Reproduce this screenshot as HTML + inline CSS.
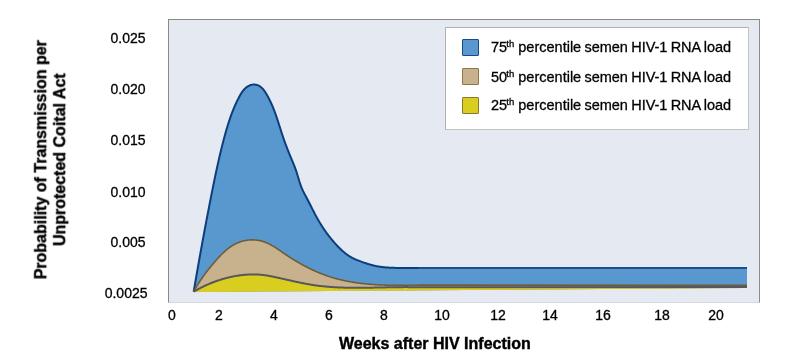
<!DOCTYPE html>
<html><head><meta charset="utf-8"><style>
body *{will-change:transform;}
html,body{margin:0;padding:0;background:#fff;width:800px;height:364px;overflow:hidden;position:relative;font-family:"Liberation Sans",sans-serif;color:#000;}
.xl,.yl,.lt{-webkit-text-stroke:0.3px #000;}
.xt,.yt{-webkit-text-stroke:0.4px #000;}
.plot{position:absolute;left:168px;top:19px;width:590px;height:282px;background:#e5e9f2;border-left:1px solid #888;border-top:1px solid #888;border-right:1px solid #8c8c8c;border-bottom:1px solid #d4d7dc;}
svg{position:absolute;left:0;top:0;}
.xl{position:absolute;top:306.8px;width:40px;text-align:center;font-size:14px;line-height:16px;}
.yl{position:absolute;left:60px;width:85.5px;text-align:right;font-size:14px;line-height:16px;}
.yt{position:absolute;left:0;top:0;width:260px;text-align:center;font-weight:bold;font-size:16px;line-height:18.6px;transform-origin:0 0;}
.xt{position:absolute;left:339px;top:334.5px;font-weight:bold;font-size:16px;line-height:18px;white-space:nowrap;}
.leg{position:absolute;left:445px;top:27px;width:302px;height:100.5px;background:#fff;border:1px solid;border-color:#b0b0b0 #c4c4c4 #c4c4c4 #b0b0b0;}
.sw{position:absolute;left:16px;width:15.4px;height:15.4px;border:1.1px solid;border-radius:1px;}
.lt{position:absolute;left:45px;font-size:14.5px;line-height:16px;white-space:nowrap;word-spacing:-0.8px;}
.lt sup{font-size:9.5px;vertical-align:0;position:relative;top:-4.7px;margin-left:-0.8px;margin-right:0.8px;}
</style></head><body>
<div class="plot"></div>
<svg width="800" height="364" viewBox="0 0 800 364">
<path d="M193.67,291.71 L193.78,291.01 L193.90,290.32 L194.02,289.63 L194.14,288.93 L194.25,288.24 L194.37,287.55 L194.49,286.85 L194.61,286.16 L194.73,285.47 L194.85,284.77 L194.96,284.08 L195.08,283.39 L195.20,282.69 L195.32,282.00 L195.44,281.31 L195.56,280.62 L195.68,279.92 L195.80,279.23 L195.92,278.54 L196.04,277.85 L196.16,277.16 L196.28,276.46 L196.40,275.77 L196.52,275.08 L196.64,274.39 L196.76,273.70 L196.88,273.01 L197.00,272.31 L197.12,271.62 L197.24,270.93 L197.36,270.24 L197.48,269.55 L197.61,268.86 L197.73,268.17 L197.85,267.48 L197.97,266.78 L198.09,266.09 L198.21,265.40 L198.34,264.71 L198.46,264.02 L198.58,263.33 L198.70,262.64 L198.83,261.95 L198.95,261.26 L199.07,260.57 L199.20,259.88 L199.32,259.19 L199.44,258.50 L199.56,257.81 L199.69,257.12 L199.81,256.43 L199.94,255.74 L200.06,255.05 L200.18,254.36 L200.31,253.67 L200.43,252.98 L200.56,252.29 L200.68,251.60 L200.81,250.91 L200.93,250.22 L201.06,249.53 L201.18,248.84 L201.31,248.15 L201.43,247.46 L201.56,246.77 L201.68,246.09 L201.81,245.40 L201.94,244.71 L202.06,244.02 L202.19,243.33 L202.31,242.64 L202.44,241.95 L202.57,241.26 L202.69,240.57 L202.82,239.88 L202.95,239.19 L203.07,238.50 L203.20,237.82 L203.33,237.13 L203.46,236.44 L203.58,235.75 L203.71,235.06 L203.84,234.37 L203.97,233.68 L204.10,232.99 L204.23,232.30 L204.35,231.62 L204.48,230.93 L204.61,230.24 L204.74,229.55 L204.87,228.86 L205.00,228.17 L205.13,227.48 L205.26,226.79 L205.39,226.11 L205.52,225.42 L205.65,224.73 L205.78,224.04 L205.91,223.35 L206.04,222.66 L206.17,221.97 L206.30,221.29 L206.43,220.60 L206.56,219.91 L206.69,219.22 L206.82,218.53 L206.95,217.84 L207.08,217.15 L207.22,216.46 L207.35,215.78 L207.48,215.09 L207.61,214.40 L207.74,213.71 L207.88,213.02 L208.01,212.33 L208.14,211.64 L208.27,210.95 L208.41,210.26 L208.54,209.58 L208.67,208.89 L208.81,208.20 L208.94,207.51 L209.07,206.82 L209.21,206.13 L209.34,205.44 L209.48,204.75 L209.61,204.06 L209.74,203.37 L209.88,202.69 L210.01,202.00 L210.15,201.31 L210.28,200.62 L210.42,199.93 L210.55,199.24 L210.69,198.55 L210.82,197.86 L210.96,197.17 L211.10,196.48 L211.23,195.79 L211.37,195.10 L211.50,194.41 L211.64,193.72 L211.78,193.03 L211.91,192.34 L212.05,191.65 L212.19,190.96 L212.33,190.28 L212.46,189.59 L212.60,188.90 L212.74,188.21 L212.88,187.52 L213.02,186.83 L213.16,186.14 L213.30,185.45 L213.44,184.76 L213.58,184.07 L213.72,183.38 L213.86,182.69 L214.00,182.00 L214.14,181.31 L214.28,180.62 L214.42,179.94 L214.57,179.25 L214.71,178.56 L214.85,177.87 L215.00,177.18 L215.14,176.49 L215.28,175.81 L215.43,175.12 L215.57,174.43 L215.72,173.74 L215.87,173.05 L216.01,172.37 L216.16,171.68 L216.31,170.99 L216.45,170.30 L216.60,169.62 L216.75,168.93 L216.90,168.24 L217.05,167.56 L217.20,166.87 L217.35,166.18 L217.50,165.50 L217.65,164.81 L217.81,164.13 L217.96,163.44 L218.11,162.76 L218.27,162.07 L218.42,161.39 L218.58,160.70 L218.73,160.02 L218.89,159.33 L219.05,158.65 L219.20,157.97 L219.36,157.28 L219.52,156.60 L219.68,155.92 L219.84,155.23 L220.00,154.55 L220.16,153.87 L220.32,153.19 L220.49,152.51 L220.65,151.82 L220.81,151.14 L220.98,150.46 L221.15,149.78 L221.31,149.10 L221.48,148.42 L221.65,147.74 L221.81,147.06 L221.98,146.38 L222.15,145.71 L222.32,145.03 L222.50,144.35 L222.67,143.67 L222.84,142.99 L223.02,142.32 L223.19,141.64 L223.37,140.97 L223.54,140.29 L223.72,139.61 L223.90,138.94 L224.08,138.26 L224.26,137.59 L224.44,136.92 L224.62,136.24 L224.80,135.57 L224.98,134.90 L225.17,134.22 L225.36,133.55 L225.54,132.88 L225.73,132.21 L225.92,131.54 L226.11,130.87 L226.30,130.20 L226.50,129.53 L226.69,128.86 L226.89,128.19 L227.09,127.53 L227.29,126.86 L227.49,126.19 L227.69,125.53 L227.90,124.86 L228.11,124.19 L228.32,123.53 L228.53,122.87 L228.74,122.20 L228.96,121.54 L229.18,120.88 L229.40,120.21 L229.62,119.55 L229.84,118.89 L230.07,118.23 L230.30,117.57 L230.53,116.91 L230.77,116.25 L231.00,115.60 L231.24,114.94 L231.48,114.28 L231.73,113.63 L231.98,112.97 L232.23,112.32 L232.48,111.66 L232.74,111.01 L233.00,110.36 L233.26,109.70 L233.52,109.05 L233.79,108.40 L234.06,107.75 L234.34,107.10 L234.62,106.45 L234.90,105.81 L235.19,105.16 L235.47,104.51 L235.77,103.87 L236.06,103.22 L236.36,102.58 L236.67,101.93 L236.97,101.29 L237.28,100.65 L237.60,100.01 L237.92,99.37 L238.24,98.73 L238.56,98.09 L238.89,97.45 L239.23,96.81 L239.57,96.18 L239.92,95.55 L240.27,94.92 L240.63,94.30 L241.00,93.69 L241.38,93.09 L241.77,92.49 L242.17,91.91 L242.58,91.33 L243.01,90.78 L243.45,90.23 L243.90,89.70 L244.37,89.19 L244.86,88.70 L245.37,88.22 L245.89,87.77 L246.43,87.34 L246.99,86.93 L247.57,86.54 L248.18,86.19 L248.80,85.86 L249.43,85.56 L250.08,85.29 L250.73,85.06 L251.40,84.87 L252.08,84.72 L252.75,84.62 L253.44,84.56 L254.12,84.54 L254.80,84.58 L255.48,84.66 L256.15,84.78 L256.82,84.95 L257.47,85.16 L258.12,85.41 L258.75,85.70 L259.36,86.02 L259.95,86.38 L260.52,86.77 L261.07,87.19 L261.60,87.65 L262.10,88.12 L262.59,88.63 L263.05,89.15 L263.50,89.70 L263.94,90.26 L264.36,90.84 L264.76,91.43 L265.16,92.03 L265.55,92.63 L265.93,93.24 L266.30,93.86 L266.66,94.47 L267.02,95.09 L267.38,95.71 L267.73,96.33 L268.07,96.95 L268.41,97.58 L268.74,98.20 L269.07,98.83 L269.39,99.46 L269.70,100.09 L270.01,100.73 L270.32,101.36 L270.62,102.00 L270.92,102.63 L271.21,103.27 L271.50,103.91 L271.79,104.55 L272.07,105.20 L272.34,105.84 L272.61,106.49 L272.88,107.13 L273.15,107.78 L273.41,108.43 L273.67,109.08 L273.92,109.73 L274.17,110.39 L274.42,111.04 L274.67,111.69 L274.91,112.35 L275.15,113.01 L275.39,113.66 L275.62,114.32 L275.86,114.98 L276.09,115.64 L276.32,116.30 L276.54,116.96 L276.77,117.62 L276.99,118.29 L277.21,118.95 L277.43,119.61 L277.65,120.28 L277.87,120.94 L278.09,121.61 L278.30,122.27 L278.51,122.94 L278.73,123.60 L278.94,124.27 L279.15,124.94 L279.37,125.60 L279.58,126.27 L279.79,126.94 L280.00,127.61 L280.21,128.27 L280.43,128.94 L280.64,129.61 L280.85,130.28 L281.06,130.94 L281.28,131.61 L281.49,132.28 L281.71,132.95 L281.92,133.61 L282.14,134.28 L282.36,134.95 L282.58,135.61 L282.80,136.28 L283.03,136.94 L283.25,137.61 L283.48,138.27 L283.71,138.94 L283.94,139.60 L284.17,140.27 L284.41,140.93 L284.64,141.59 L284.88,142.25 L285.12,142.91 L285.36,143.57 L285.61,144.23 L285.85,144.89 L286.10,145.55 L286.35,146.21 L286.60,146.87 L286.85,147.53 L287.10,148.18 L287.35,148.84 L287.61,149.50 L287.87,150.15 L288.12,150.80 L288.38,151.46 L288.64,152.11 L288.91,152.76 L289.17,153.42 L289.43,154.07 L289.70,154.72 L289.96,155.37 L290.23,156.02 L290.50,156.67 L290.77,157.31 L291.04,157.96 L291.31,158.61 L291.58,159.25 L291.85,159.90 L292.13,160.54 L292.40,161.19 L292.67,161.83 L292.94,162.48 L293.20,163.12 L293.47,163.77 L293.73,164.42 L294.00,165.07 L294.25,165.72 L294.51,166.37 L294.76,167.02 L295.01,167.67 L295.26,168.33 L295.50,168.98 L295.73,169.64 L295.96,170.30 L296.19,170.97 L296.41,171.63 L296.62,172.30 L296.84,172.97 L297.04,173.64 L297.25,174.31 L297.46,174.98 L297.66,175.66 L297.86,176.33 L298.06,177.01 L298.26,177.68 L298.47,178.35 L298.67,179.03 L298.87,179.70 L299.08,180.37 L299.28,181.04 L299.49,181.72 L299.71,182.38 L299.92,183.05 L300.14,183.72 L300.37,184.38 L300.60,185.04 L300.84,185.70 L301.08,186.36 L301.33,187.01 L301.58,187.66 L301.85,188.31 L302.12,188.95 L302.40,189.59 L302.69,190.23 L302.99,190.86 L303.29,191.49 L303.60,192.12 L303.92,192.74 L304.25,193.37 L304.57,193.99 L304.90,194.61 L305.23,195.22 L305.57,195.84 L305.90,196.46 L306.23,197.08 L306.57,197.70 L306.90,198.32 L307.22,198.94 L307.55,199.56 L307.88,200.19 L308.20,200.81 L308.52,201.43 L308.84,202.06 L309.16,202.69 L309.48,203.31 L309.80,203.94 L310.12,204.57 L310.43,205.19 L310.75,205.82 L311.07,206.45 L311.38,207.07 L311.70,207.70 L312.02,208.33 L312.33,208.95 L312.65,209.58 L312.97,210.21 L313.29,210.83 L313.61,211.46 L313.93,212.08 L314.26,212.70 L314.58,213.33 L314.91,213.95 L315.24,214.57 L315.56,215.19 L315.90,215.81 L316.23,216.42 L316.57,217.04 L316.90,217.65 L317.25,218.27 L317.59,218.88 L317.94,219.49 L318.28,220.10 L318.64,220.70 L318.99,221.31 L319.35,221.91 L319.71,222.51 L320.07,223.11 L320.44,223.71 L320.80,224.31 L321.17,224.90 L321.55,225.49 L321.92,226.09 L322.30,226.68 L322.69,227.26 L323.07,227.85 L323.46,228.43 L323.85,229.01 L324.24,229.59 L324.64,230.17 L325.04,230.75 L325.44,231.32 L325.84,231.89 L326.25,232.46 L326.66,233.03 L327.08,233.60 L327.50,234.16 L327.92,234.72 L328.34,235.28 L328.76,235.84 L329.19,236.39 L329.63,236.94 L330.06,237.49 L330.50,238.04 L330.94,238.59 L331.39,239.13 L331.83,239.67 L332.28,240.21 L332.74,240.75 L333.20,241.28 L333.66,241.81 L334.12,242.34 L334.59,242.87 L335.06,243.39 L335.53,243.91 L336.01,244.43 L336.49,244.94 L336.97,245.46 L337.46,245.97 L337.94,246.48 L338.44,246.98 L338.93,247.48 L339.43,247.98 L339.94,248.48 L340.44,248.97 L340.95,249.46 L341.47,249.94 L341.99,250.42 L342.51,250.90 L343.04,251.36 L343.57,251.83 L344.11,252.28 L344.65,252.73 L345.20,253.17 L345.75,253.61 L346.30,254.03 L346.87,254.45 L347.43,254.86 L348.01,255.26 L348.58,255.66 L349.17,256.04 L349.76,256.41 L350.36,256.77 L350.96,257.12 L351.57,257.46 L352.18,257.80 L352.80,258.12 L353.43,258.43 L354.06,258.74 L354.69,259.04 L355.33,259.33 L355.97,259.61 L356.61,259.89 L357.26,260.16 L357.91,260.42 L358.57,260.68 L359.22,260.93 L359.88,261.18 L360.54,261.43 L361.21,261.67 L361.87,261.91 L362.53,262.15 L363.20,262.38 L363.87,262.61 L364.53,262.84 L365.20,263.07 L365.87,263.29 L366.54,263.50 L367.21,263.72 L367.88,263.93 L368.56,264.13 L369.23,264.33 L369.90,264.53 L370.58,264.72 L371.26,264.91 L371.93,265.09 L372.61,265.26 L373.29,265.43 L373.97,265.59 L374.66,265.75 L375.34,265.89 L376.02,266.04 L376.71,266.17 L377.40,266.30 L378.08,266.42 L378.77,266.54 L379.46,266.65 L380.15,266.75 L380.85,266.85 L381.54,266.94 L382.23,267.03 L382.93,267.11 L383.62,267.19 L384.32,267.26 L385.01,267.33 L385.71,267.39 L386.41,267.45 L387.11,267.51 L387.81,267.56 L388.51,267.60 L389.21,267.64 L389.91,267.68 L390.61,267.72 L391.31,267.75 L392.01,267.78 L392.72,267.80 L393.42,267.83 L394.12,267.85 L394.83,267.86 L395.53,267.88 L396.24,267.89 L396.94,267.90 L397.64,267.91 L398.35,267.92 L399.05,267.92 L399.76,267.93 L400.46,267.93 L401.17,267.93 L401.87,267.93 L402.58,267.93 L403.28,267.93 L403.99,267.93 L404.69,267.93 L405.39,267.92 L406.10,267.92 L406.80,267.92 L407.50,267.92 L408.21,267.92 L408.91,267.92 L409.61,267.92 L410.31,267.92 L411.01,267.92 L411.71,267.92 L412.41,267.93 L413.11,267.93 L413.81,267.94 L414.51,267.95 L415.21,267.96 L415.90,267.98 L416.60,267.99 L417.30,268.01 L417.99,268.03 L747.00,268.00 L747,287.9 L193.7,292.1 Z" fill="#5898ce" stroke="none"/>
<path d="M193.71,291.68 L194.04,291.05 L194.39,290.43 L194.73,289.80 L195.08,289.18 L195.43,288.57 L195.78,287.96 L196.13,287.35 L196.49,286.74 L196.85,286.14 L197.21,285.53 L197.58,284.94 L197.94,284.34 L198.31,283.75 L198.68,283.15 L199.06,282.57 L199.44,281.98 L199.81,281.40 L200.20,280.82 L200.58,280.24 L200.97,279.66 L201.36,279.08 L201.75,278.51 L202.14,277.94 L202.54,277.37 L202.94,276.81 L203.34,276.24 L203.74,275.68 L204.15,275.11 L204.56,274.55 L204.97,274.00 L205.39,273.44 L205.80,272.88 L206.22,272.33 L206.64,271.77 L207.07,271.22 L207.49,270.67 L207.92,270.12 L208.35,269.57 L208.79,269.03 L209.22,268.48 L209.66,267.93 L210.10,267.39 L210.54,266.84 L210.99,266.30 L211.44,265.76 L211.89,265.21 L212.34,264.67 L212.80,264.13 L213.26,263.59 L213.72,263.05 L214.18,262.51 L214.64,261.96 L215.11,261.42 L215.58,260.88 L216.06,260.34 L216.53,259.80 L217.01,259.27 L217.49,258.73 L217.97,258.20 L218.46,257.67 L218.95,257.14 L219.45,256.61 L219.94,256.09 L220.44,255.57 L220.94,255.05 L221.45,254.54 L221.96,254.03 L222.48,253.52 L222.99,253.02 L223.51,252.53 L224.04,252.04 L224.57,251.56 L225.10,251.08 L225.64,250.61 L226.18,250.15 L226.73,249.69 L227.28,249.24 L227.83,248.80 L228.39,248.36 L228.95,247.94 L229.52,247.52 L230.10,247.11 L230.67,246.71 L231.26,246.32 L231.84,245.93 L232.44,245.56 L233.03,245.20 L233.64,244.85 L234.25,244.51 L234.86,244.18 L235.48,243.86 L236.10,243.56 L236.73,243.26 L237.37,242.98 L238.01,242.71 L238.66,242.45 L239.31,242.21 L239.97,241.97 L240.63,241.75 L241.29,241.54 L241.96,241.34 L242.63,241.16 L243.30,240.99 L243.98,240.83 L244.66,240.68 L245.34,240.55 L246.03,240.43 L246.72,240.32 L247.40,240.22 L248.09,240.13 L248.79,240.06 L249.48,240.00 L250.17,239.96 L250.86,239.92 L251.56,239.90 L252.25,239.89 L252.94,239.90 L253.64,239.91 L254.33,239.94 L255.02,239.99 L255.71,240.04 L256.40,240.11 L257.08,240.19 L257.77,240.29 L258.45,240.39 L259.13,240.51 L259.80,240.65 L260.47,240.79 L261.14,240.95 L261.81,241.13 L262.47,241.31 L263.13,241.51 L263.78,241.72 L264.43,241.95 L265.07,242.18 L265.71,242.43 L266.35,242.69 L266.98,242.96 L267.61,243.24 L268.24,243.54 L268.86,243.84 L269.48,244.15 L270.10,244.47 L270.71,244.80 L271.33,245.13 L271.93,245.47 L272.54,245.83 L273.15,246.18 L273.75,246.55 L274.35,246.92 L274.95,247.29 L275.55,247.67 L276.14,248.06 L276.74,248.44 L277.33,248.84 L277.92,249.23 L278.52,249.63 L279.11,250.03 L279.70,250.44 L280.29,250.84 L280.88,251.25 L281.47,251.65 L282.06,252.06 L282.65,252.47 L283.24,252.87 L283.83,253.28 L284.42,253.68 L285.01,254.09 L285.60,254.49 L286.20,254.88 L286.79,255.28 L287.39,255.67 L287.98,256.07 L288.58,256.46 L289.18,256.85 L289.78,257.23 L290.37,257.62 L290.97,258.00 L291.58,258.38 L292.18,258.76 L292.78,259.13 L293.38,259.51 L293.99,259.88 L294.59,260.25 L295.20,260.62 L295.81,260.98 L296.42,261.34 L297.02,261.70 L297.63,262.06 L298.24,262.42 L298.86,262.77 L299.47,263.12 L300.08,263.47 L300.70,263.82 L301.31,264.16 L301.93,264.50 L302.55,264.84 L303.16,265.18 L303.78,265.51 L304.40,265.84 L305.02,266.17 L305.65,266.50 L306.27,266.82 L306.89,267.14 L307.52,267.46 L308.14,267.78 L308.77,268.09 L309.40,268.40 L310.03,268.71 L310.66,269.02 L311.29,269.32 L311.92,269.62 L312.55,269.92 L313.19,270.21 L313.82,270.50 L314.46,270.79 L315.10,271.08 L315.74,271.36 L316.38,271.64 L317.02,271.92 L317.66,272.19 L318.30,272.46 L318.94,272.73 L319.59,273.00 L320.23,273.26 L320.88,273.52 L321.53,273.78 L322.18,274.03 L322.83,274.28 L323.48,274.53 L324.13,274.77 L324.79,275.01 L325.44,275.25 L326.10,275.48 L326.76,275.72 L327.41,275.94 L328.07,276.17 L328.73,276.39 L329.40,276.61 L330.06,276.82 L330.72,277.04 L331.39,277.24 L332.05,277.45 L332.72,277.65 L333.39,277.85 L334.06,278.04 L334.73,278.24 L335.41,278.43 L336.08,278.61 L336.75,278.79 L337.43,278.97 L338.11,279.15 L338.78,279.32 L339.46,279.49 L340.14,279.66 L340.82,279.82 L341.51,279.98 L342.19,280.14 L342.87,280.29 L343.56,280.44 L344.24,280.59 L344.93,280.74 L345.62,280.88 L346.30,281.02 L346.99,281.16 L347.68,281.29 L348.37,281.42 L349.07,281.55 L349.76,281.68 L350.45,281.80 L351.14,281.92 L351.84,282.04 L352.53,282.16 L353.23,282.27 L353.93,282.38 L354.62,282.49 L355.32,282.59 L356.02,282.70 L356.72,282.80 L357.42,282.89 L358.12,282.99 L358.82,283.08 L359.52,283.17 L360.22,283.26 L360.93,283.35 L361.63,283.43 L362.33,283.51 L363.04,283.59 L363.74,283.67 L364.44,283.75 L365.15,283.82 L365.85,283.89 L366.56,283.96 L367.27,284.03 L367.97,284.09 L368.68,284.16 L369.39,284.22 L370.09,284.28 L370.80,284.33 L371.51,284.39 L372.22,284.44 L372.92,284.49 L373.63,284.54 L374.34,284.59 L375.05,284.64 L375.76,284.68 L376.47,284.72 L377.18,284.76 L377.88,284.80 L378.59,284.84 L379.30,284.88 L380.01,284.91 L380.72,284.95 L381.43,284.98 L382.14,285.01 L382.85,285.04 L383.56,285.06 L384.27,285.09 L384.98,285.11 L385.68,285.14 L386.39,285.16 L387.10,285.18 L387.81,285.20 L388.52,285.21 L389.23,285.23 L389.93,285.25 L390.64,285.26 L391.35,285.27 L392.06,285.29 L392.76,285.30 L393.47,285.31 L394.18,285.32 L394.88,285.32 L395.59,285.33 L396.29,285.34 L397.00,285.34 L397.70,285.34 L398.40,285.35 L399.11,285.35 L399.81,285.35 L400.51,285.35 L401.22,285.35 L401.92,285.35 L402.62,285.35 L403.32,285.35 L404.02,285.34 L404.72,285.34 L405.42,285.33 L406.12,285.33 L406.81,285.32 L407.51,285.32 L408.21,285.31 L408.90,285.30 L409.60,285.30 L410.29,285.29 L410.98,285.28 L411.68,285.27 L412.37,285.26 L413.06,285.25 L413.75,285.24 L414.44,285.23 L415.13,285.22 L415.82,285.21 L416.50,285.20 L417.19,285.19 L417.88,285.18 L418.56,285.17 L419.24,285.16 L419.93,285.15 L747.00,285.20 L747,287.9 L193.7,292.1 Z" fill="#c8b18d" stroke="none"/>
<path d="M193.70,291.66 L194.30,291.31 L194.91,290.97 L195.52,290.62 L196.13,290.28 L196.74,289.95 L197.36,289.61 L197.97,289.28 L198.59,288.95 L199.21,288.62 L199.83,288.30 L200.46,287.98 L201.08,287.66 L201.71,287.35 L202.34,287.04 L202.97,286.73 L203.60,286.43 L204.24,286.13 L204.87,285.83 L205.51,285.53 L206.15,285.24 L206.79,284.95 L207.43,284.67 L208.08,284.38 L208.72,284.10 L209.37,283.83 L210.02,283.56 L210.67,283.29 L211.32,283.02 L211.98,282.76 L212.63,282.50 L213.29,282.25 L213.95,282.00 L214.61,281.75 L215.27,281.51 L215.93,281.26 L216.59,281.03 L217.26,280.79 L217.93,280.57 L218.59,280.34 L219.26,280.12 L219.93,279.90 L220.60,279.69 L221.28,279.47 L221.95,279.27 L222.63,279.07 L223.30,278.87 L223.98,278.67 L224.66,278.48 L225.34,278.29 L226.02,278.11 L226.70,277.93 L227.38,277.76 L228.06,277.59 L228.75,277.42 L229.43,277.26 L230.12,277.10 L230.81,276.95 L231.49,276.80 L232.18,276.65 L232.87,276.51 L233.56,276.37 L234.26,276.24 L234.95,276.11 L235.64,275.99 L236.34,275.87 L237.03,275.75 L237.73,275.64 L238.42,275.54 L239.12,275.44 L239.82,275.34 L240.51,275.25 L241.21,275.16 L241.91,275.08 L242.61,275.00 L243.31,274.93 L244.01,274.86 L244.71,274.79 L245.41,274.74 L246.12,274.68 L246.82,274.63 L247.52,274.59 L248.22,274.55 L248.93,274.51 L249.63,274.48 L250.33,274.46 L251.04,274.44 L251.74,274.43 L252.44,274.42 L253.15,274.42 L253.85,274.42 L254.55,274.43 L255.25,274.44 L255.95,274.46 L256.66,274.49 L257.36,274.52 L258.06,274.55 L258.76,274.60 L259.46,274.64 L260.16,274.70 L260.85,274.76 L261.55,274.82 L262.25,274.90 L262.94,274.97 L263.64,275.06 L264.33,275.15 L265.03,275.24 L265.72,275.34 L266.41,275.45 L267.10,275.56 L267.79,275.67 L268.48,275.79 L269.17,275.92 L269.86,276.04 L270.55,276.17 L271.24,276.31 L271.93,276.44 L272.61,276.58 L273.30,276.72 L273.99,276.87 L274.67,277.01 L275.36,277.16 L276.05,277.31 L276.73,277.46 L277.42,277.61 L278.11,277.76 L278.79,277.91 L279.48,278.06 L280.16,278.21 L280.85,278.37 L281.54,278.52 L282.22,278.68 L282.91,278.83 L283.60,278.99 L284.28,279.14 L284.97,279.30 L285.65,279.45 L286.34,279.61 L287.03,279.77 L287.71,279.92 L288.40,280.08 L289.09,280.23 L289.77,280.39 L290.46,280.54 L291.15,280.70 L291.83,280.85 L292.52,281.01 L293.21,281.16 L293.89,281.31 L294.58,281.46 L295.27,281.61 L295.96,281.76 L296.64,281.91 L297.33,282.06 L298.02,282.21 L298.71,282.35 L299.40,282.50 L300.09,282.64 L300.78,282.78 L301.46,282.92 L302.15,283.06 L302.84,283.20 L303.53,283.34 L304.22,283.47 L304.91,283.60 L305.60,283.73 L306.29,283.86 L306.98,283.99 L307.68,284.11 L308.37,284.24 L309.06,284.36 L309.75,284.48 L310.44,284.59 L311.14,284.71 L311.83,284.82 L312.52,284.93 L313.22,285.04 L313.91,285.14 L314.60,285.24 L315.30,285.34 L315.99,285.44 L316.69,285.53 L317.38,285.63 L318.08,285.72 L318.78,285.80 L319.47,285.89 L320.17,285.97 L320.87,286.05 L321.56,286.13 L322.26,286.21 L322.96,286.28 L323.66,286.35 L324.35,286.42 L325.05,286.49 L325.75,286.56 L326.45,286.62 L327.15,286.68 L327.85,286.74 L328.55,286.80 L329.25,286.86 L329.95,286.91 L330.65,286.96 L331.35,287.01 L332.05,287.06 L332.75,287.11 L333.45,287.15 L334.15,287.20 L334.86,287.24 L335.56,287.28 L336.26,287.32 L336.96,287.35 L337.66,287.39 L338.37,287.42 L339.07,287.45 L339.77,287.48 L340.47,287.51 L341.18,287.54 L341.88,287.57 L342.58,287.59 L343.29,287.61 L343.99,287.64 L344.70,287.66 L345.40,287.67 L346.10,287.69 L346.81,287.71 L347.51,287.72 L348.22,287.74 L348.92,287.75 L349.63,287.76 L350.33,287.77 L351.04,287.78 L351.74,287.79 L352.45,287.80 L353.15,287.80 L353.86,287.81 L354.56,287.81 L355.27,287.81 L355.97,287.82 L356.68,287.82 L357.39,287.82 L358.09,287.82 L358.80,287.81 L359.50,287.81 L360.21,287.81 L360.92,287.80 L361.62,287.80 L362.33,287.79 L363.03,287.79 L363.74,287.78 L364.45,287.77 L365.15,287.77 L365.86,287.76 L366.57,287.75 L367.27,287.74 L367.98,287.73 L368.68,287.72 L369.39,287.71 L370.10,287.69 L370.80,287.68 L371.51,287.67 L372.22,287.66 L372.92,287.64 L373.63,287.63 L374.34,287.62 L375.04,287.60 L375.75,287.59 L376.45,287.57 L377.16,287.56 L377.87,287.54 L378.57,287.53 L379.28,287.51 L379.98,287.50 L380.69,287.48 L381.39,287.47 L382.10,287.45 L382.81,287.44 L383.51,287.42 L384.22,287.41 L384.92,287.39 L385.63,287.38 L386.33,287.36 L387.04,287.35 L387.74,287.34 L388.45,287.32 L389.15,287.31 L389.86,287.29 L390.56,287.28 L391.27,287.27 L391.97,287.26 L392.67,287.24 L393.38,287.23 L394.08,287.22 L394.78,287.21 L395.49,287.20 L396.19,287.19 L396.89,287.18 L397.60,287.17 L398.30,287.16 L399.00,287.16 L399.71,287.15 L400.41,287.14 L401.11,287.14 L401.81,287.13 L402.51,287.13 L403.22,287.13 L403.92,287.12 L404.62,287.12 L405.32,287.12 L406.02,287.12 L406.72,287.12 L407.42,287.12 L408.12,287.13 L408.82,287.13 L409.52,287.13 L410.22,287.14 L410.92,287.15 L411.62,287.16 L412.32,287.16 L413.02,287.17 L413.71,287.19 L414.41,287.20 L415.11,287.21 L415.81,287.23 L416.50,287.24 L417.20,287.26 L417.90,287.28 L418.59,287.30 L419.29,287.32 L419.99,287.34 L747.00,286.90 L747,287.9 L193.7,292.1 Z" fill="#d9cd1f" stroke="none"/>
<path d="M193.67,291.71 L193.78,291.01 L193.90,290.32 L194.02,289.63 L194.14,288.93 L194.25,288.24 L194.37,287.55 L194.49,286.85 L194.61,286.16 L194.73,285.47 L194.85,284.77 L194.96,284.08 L195.08,283.39 L195.20,282.69 L195.32,282.00 L195.44,281.31 L195.56,280.62 L195.68,279.92 L195.80,279.23 L195.92,278.54 L196.04,277.85 L196.16,277.16 L196.28,276.46 L196.40,275.77 L196.52,275.08 L196.64,274.39 L196.76,273.70 L196.88,273.01 L197.00,272.31 L197.12,271.62 L197.24,270.93 L197.36,270.24 L197.48,269.55 L197.61,268.86 L197.73,268.17 L197.85,267.48 L197.97,266.78 L198.09,266.09 L198.21,265.40 L198.34,264.71 L198.46,264.02 L198.58,263.33 L198.70,262.64 L198.83,261.95 L198.95,261.26 L199.07,260.57 L199.20,259.88 L199.32,259.19 L199.44,258.50 L199.56,257.81 L199.69,257.12 L199.81,256.43 L199.94,255.74 L200.06,255.05 L200.18,254.36 L200.31,253.67 L200.43,252.98 L200.56,252.29 L200.68,251.60 L200.81,250.91 L200.93,250.22 L201.06,249.53 L201.18,248.84 L201.31,248.15 L201.43,247.46 L201.56,246.77 L201.68,246.09 L201.81,245.40 L201.94,244.71 L202.06,244.02 L202.19,243.33 L202.31,242.64 L202.44,241.95 L202.57,241.26 L202.69,240.57 L202.82,239.88 L202.95,239.19 L203.07,238.50 L203.20,237.82 L203.33,237.13 L203.46,236.44 L203.58,235.75 L203.71,235.06 L203.84,234.37 L203.97,233.68 L204.10,232.99 L204.23,232.30 L204.35,231.62 L204.48,230.93 L204.61,230.24 L204.74,229.55 L204.87,228.86 L205.00,228.17 L205.13,227.48 L205.26,226.79 L205.39,226.11 L205.52,225.42 L205.65,224.73 L205.78,224.04 L205.91,223.35 L206.04,222.66 L206.17,221.97 L206.30,221.29 L206.43,220.60 L206.56,219.91 L206.69,219.22 L206.82,218.53 L206.95,217.84 L207.08,217.15 L207.22,216.46 L207.35,215.78 L207.48,215.09 L207.61,214.40 L207.74,213.71 L207.88,213.02 L208.01,212.33 L208.14,211.64 L208.27,210.95 L208.41,210.26 L208.54,209.58 L208.67,208.89 L208.81,208.20 L208.94,207.51 L209.07,206.82 L209.21,206.13 L209.34,205.44 L209.48,204.75 L209.61,204.06 L209.74,203.37 L209.88,202.69 L210.01,202.00 L210.15,201.31 L210.28,200.62 L210.42,199.93 L210.55,199.24 L210.69,198.55 L210.82,197.86 L210.96,197.17 L211.10,196.48 L211.23,195.79 L211.37,195.10 L211.50,194.41 L211.64,193.72 L211.78,193.03 L211.91,192.34 L212.05,191.65 L212.19,190.96 L212.33,190.28 L212.46,189.59 L212.60,188.90 L212.74,188.21 L212.88,187.52 L213.02,186.83 L213.16,186.14 L213.30,185.45 L213.44,184.76 L213.58,184.07 L213.72,183.38 L213.86,182.69 L214.00,182.00 L214.14,181.31 L214.28,180.62 L214.42,179.94 L214.57,179.25 L214.71,178.56 L214.85,177.87 L215.00,177.18 L215.14,176.49 L215.28,175.81 L215.43,175.12 L215.57,174.43 L215.72,173.74 L215.87,173.05 L216.01,172.37 L216.16,171.68 L216.31,170.99 L216.45,170.30 L216.60,169.62 L216.75,168.93 L216.90,168.24 L217.05,167.56 L217.20,166.87 L217.35,166.18 L217.50,165.50 L217.65,164.81 L217.81,164.13 L217.96,163.44 L218.11,162.76 L218.27,162.07 L218.42,161.39 L218.58,160.70 L218.73,160.02 L218.89,159.33 L219.05,158.65 L219.20,157.97 L219.36,157.28 L219.52,156.60 L219.68,155.92 L219.84,155.23 L220.00,154.55 L220.16,153.87 L220.32,153.19 L220.49,152.51 L220.65,151.82 L220.81,151.14 L220.98,150.46 L221.15,149.78 L221.31,149.10 L221.48,148.42 L221.65,147.74 L221.81,147.06 L221.98,146.38 L222.15,145.71 L222.32,145.03 L222.50,144.35 L222.67,143.67 L222.84,142.99 L223.02,142.32 L223.19,141.64 L223.37,140.97 L223.54,140.29 L223.72,139.61 L223.90,138.94 L224.08,138.26 L224.26,137.59 L224.44,136.92 L224.62,136.24 L224.80,135.57 L224.98,134.90 L225.17,134.22 L225.36,133.55 L225.54,132.88 L225.73,132.21 L225.92,131.54 L226.11,130.87 L226.30,130.20 L226.50,129.53 L226.69,128.86 L226.89,128.19 L227.09,127.53 L227.29,126.86 L227.49,126.19 L227.69,125.53 L227.90,124.86 L228.11,124.19 L228.32,123.53 L228.53,122.87 L228.74,122.20 L228.96,121.54 L229.18,120.88 L229.40,120.21 L229.62,119.55 L229.84,118.89 L230.07,118.23 L230.30,117.57 L230.53,116.91 L230.77,116.25 L231.00,115.60 L231.24,114.94 L231.48,114.28 L231.73,113.63 L231.98,112.97 L232.23,112.32 L232.48,111.66 L232.74,111.01 L233.00,110.36 L233.26,109.70 L233.52,109.05 L233.79,108.40 L234.06,107.75 L234.34,107.10 L234.62,106.45 L234.90,105.81 L235.19,105.16 L235.47,104.51 L235.77,103.87 L236.06,103.22 L236.36,102.58 L236.67,101.93 L236.97,101.29 L237.28,100.65 L237.60,100.01 L237.92,99.37 L238.24,98.73 L238.56,98.09 L238.89,97.45 L239.23,96.81 L239.57,96.18 L239.92,95.55 L240.27,94.92 L240.63,94.30 L241.00,93.69 L241.38,93.09 L241.77,92.49 L242.17,91.91 L242.58,91.33 L243.01,90.78 L243.45,90.23 L243.90,89.70 L244.37,89.19 L244.86,88.70 L245.37,88.22 L245.89,87.77 L246.43,87.34 L246.99,86.93 L247.57,86.54 L248.18,86.19 L248.80,85.86 L249.43,85.56 L250.08,85.29 L250.73,85.06 L251.40,84.87 L252.08,84.72 L252.75,84.62 L253.44,84.56 L254.12,84.54 L254.80,84.58 L255.48,84.66 L256.15,84.78 L256.82,84.95 L257.47,85.16 L258.12,85.41 L258.75,85.70 L259.36,86.02 L259.95,86.38 L260.52,86.77 L261.07,87.19 L261.60,87.65 L262.10,88.12 L262.59,88.63 L263.05,89.15 L263.50,89.70 L263.94,90.26 L264.36,90.84 L264.76,91.43 L265.16,92.03 L265.55,92.63 L265.93,93.24 L266.30,93.86 L266.66,94.47 L267.02,95.09 L267.38,95.71 L267.73,96.33 L268.07,96.95 L268.41,97.58 L268.74,98.20 L269.07,98.83 L269.39,99.46 L269.70,100.09 L270.01,100.73 L270.32,101.36 L270.62,102.00 L270.92,102.63 L271.21,103.27 L271.50,103.91 L271.79,104.55 L272.07,105.20 L272.34,105.84 L272.61,106.49 L272.88,107.13 L273.15,107.78 L273.41,108.43 L273.67,109.08 L273.92,109.73 L274.17,110.39 L274.42,111.04 L274.67,111.69 L274.91,112.35 L275.15,113.01 L275.39,113.66 L275.62,114.32 L275.86,114.98 L276.09,115.64 L276.32,116.30 L276.54,116.96 L276.77,117.62 L276.99,118.29 L277.21,118.95 L277.43,119.61 L277.65,120.28 L277.87,120.94 L278.09,121.61 L278.30,122.27 L278.51,122.94 L278.73,123.60 L278.94,124.27 L279.15,124.94 L279.37,125.60 L279.58,126.27 L279.79,126.94 L280.00,127.61 L280.21,128.27 L280.43,128.94 L280.64,129.61 L280.85,130.28 L281.06,130.94 L281.28,131.61 L281.49,132.28 L281.71,132.95 L281.92,133.61 L282.14,134.28 L282.36,134.95 L282.58,135.61 L282.80,136.28 L283.03,136.94 L283.25,137.61 L283.48,138.27 L283.71,138.94 L283.94,139.60 L284.17,140.27 L284.41,140.93 L284.64,141.59 L284.88,142.25 L285.12,142.91 L285.36,143.57 L285.61,144.23 L285.85,144.89 L286.10,145.55 L286.35,146.21 L286.60,146.87 L286.85,147.53 L287.10,148.18 L287.35,148.84 L287.61,149.50 L287.87,150.15 L288.12,150.80 L288.38,151.46 L288.64,152.11 L288.91,152.76 L289.17,153.42 L289.43,154.07 L289.70,154.72 L289.96,155.37 L290.23,156.02 L290.50,156.67 L290.77,157.31 L291.04,157.96 L291.31,158.61 L291.58,159.25 L291.85,159.90 L292.13,160.54 L292.40,161.19 L292.67,161.83 L292.94,162.48 L293.20,163.12 L293.47,163.77 L293.73,164.42 L294.00,165.07 L294.25,165.72 L294.51,166.37 L294.76,167.02 L295.01,167.67 L295.26,168.33 L295.50,168.98 L295.73,169.64 L295.96,170.30 L296.19,170.97 L296.41,171.63 L296.62,172.30 L296.84,172.97 L297.04,173.64 L297.25,174.31 L297.46,174.98 L297.66,175.66 L297.86,176.33 L298.06,177.01 L298.26,177.68 L298.47,178.35 L298.67,179.03 L298.87,179.70 L299.08,180.37 L299.28,181.04 L299.49,181.72 L299.71,182.38 L299.92,183.05 L300.14,183.72 L300.37,184.38 L300.60,185.04 L300.84,185.70 L301.08,186.36 L301.33,187.01 L301.58,187.66 L301.85,188.31 L302.12,188.95 L302.40,189.59 L302.69,190.23 L302.99,190.86 L303.29,191.49 L303.60,192.12 L303.92,192.74 L304.25,193.37 L304.57,193.99 L304.90,194.61 L305.23,195.22 L305.57,195.84 L305.90,196.46 L306.23,197.08 L306.57,197.70 L306.90,198.32 L307.22,198.94 L307.55,199.56 L307.88,200.19 L308.20,200.81 L308.52,201.43 L308.84,202.06 L309.16,202.69 L309.48,203.31 L309.80,203.94 L310.12,204.57 L310.43,205.19 L310.75,205.82 L311.07,206.45 L311.38,207.07 L311.70,207.70 L312.02,208.33 L312.33,208.95 L312.65,209.58 L312.97,210.21 L313.29,210.83 L313.61,211.46 L313.93,212.08 L314.26,212.70 L314.58,213.33 L314.91,213.95 L315.24,214.57 L315.56,215.19 L315.90,215.81 L316.23,216.42 L316.57,217.04 L316.90,217.65 L317.25,218.27 L317.59,218.88 L317.94,219.49 L318.28,220.10 L318.64,220.70 L318.99,221.31 L319.35,221.91 L319.71,222.51 L320.07,223.11 L320.44,223.71 L320.80,224.31 L321.17,224.90 L321.55,225.49 L321.92,226.09 L322.30,226.68 L322.69,227.26 L323.07,227.85 L323.46,228.43 L323.85,229.01 L324.24,229.59 L324.64,230.17 L325.04,230.75 L325.44,231.32 L325.84,231.89 L326.25,232.46 L326.66,233.03 L327.08,233.60 L327.50,234.16 L327.92,234.72 L328.34,235.28 L328.76,235.84 L329.19,236.39 L329.63,236.94 L330.06,237.49 L330.50,238.04 L330.94,238.59 L331.39,239.13 L331.83,239.67 L332.28,240.21 L332.74,240.75 L333.20,241.28 L333.66,241.81 L334.12,242.34 L334.59,242.87 L335.06,243.39 L335.53,243.91 L336.01,244.43 L336.49,244.94 L336.97,245.46 L337.46,245.97 L337.94,246.48 L338.44,246.98 L338.93,247.48 L339.43,247.98 L339.94,248.48 L340.44,248.97 L340.95,249.46 L341.47,249.94 L341.99,250.42 L342.51,250.90 L343.04,251.36 L343.57,251.83 L344.11,252.28 L344.65,252.73 L345.20,253.17 L345.75,253.61 L346.30,254.03 L346.87,254.45 L347.43,254.86 L348.01,255.26 L348.58,255.66 L349.17,256.04 L349.76,256.41 L350.36,256.77 L350.96,257.12 L351.57,257.46 L352.18,257.80 L352.80,258.12 L353.43,258.43 L354.06,258.74 L354.69,259.04 L355.33,259.33 L355.97,259.61 L356.61,259.89 L357.26,260.16 L357.91,260.42 L358.57,260.68 L359.22,260.93 L359.88,261.18 L360.54,261.43 L361.21,261.67 L361.87,261.91 L362.53,262.15 L363.20,262.38 L363.87,262.61 L364.53,262.84 L365.20,263.07 L365.87,263.29 L366.54,263.50 L367.21,263.72 L367.88,263.93 L368.56,264.13 L369.23,264.33 L369.90,264.53 L370.58,264.72 L371.26,264.91 L371.93,265.09 L372.61,265.26 L373.29,265.43 L373.97,265.59 L374.66,265.75 L375.34,265.89 L376.02,266.04 L376.71,266.17 L377.40,266.30 L378.08,266.42 L378.77,266.54 L379.46,266.65 L380.15,266.75 L380.85,266.85 L381.54,266.94 L382.23,267.03 L382.93,267.11 L383.62,267.19 L384.32,267.26 L385.01,267.33 L385.71,267.39 L386.41,267.45 L387.11,267.51 L387.81,267.56 L388.51,267.60 L389.21,267.64 L389.91,267.68 L390.61,267.72 L391.31,267.75 L392.01,267.78 L392.72,267.80 L393.42,267.83 L394.12,267.85 L394.83,267.86 L395.53,267.88 L396.24,267.89 L396.94,267.90 L397.64,267.91 L398.35,267.92 L399.05,267.92 L399.76,267.93 L400.46,267.93 L401.17,267.93 L401.87,267.93 L402.58,267.93 L403.28,267.93 L403.99,267.93 L404.69,267.93 L405.39,267.92 L406.10,267.92 L406.80,267.92 L407.50,267.92 L408.21,267.92 L408.91,267.92 L409.61,267.92 L410.31,267.92 L411.01,267.92 L411.71,267.92 L412.41,267.93 L413.11,267.93 L413.81,267.94 L414.51,267.95 L415.21,267.96 L415.90,267.98 L416.60,267.99 L417.30,268.01 L417.99,268.03" fill="none" stroke="#0e3d7c" stroke-width="2" stroke-linejoin="round"/>
<path d="M405,268 L747,268" fill="none" stroke="#1b4f8e" stroke-width="2"/>
<path d="M395,267.95 L418,268" fill="none" stroke="#0e3d7c" stroke-width="2"/>
<path d="M193.71,291.68 L194.04,291.05 L194.39,290.43 L194.73,289.80 L195.08,289.18 L195.43,288.57 L195.78,287.96 L196.13,287.35 L196.49,286.74 L196.85,286.14 L197.21,285.53 L197.58,284.94 L197.94,284.34 L198.31,283.75 L198.68,283.15 L199.06,282.57 L199.44,281.98 L199.81,281.40 L200.20,280.82 L200.58,280.24 L200.97,279.66 L201.36,279.08 L201.75,278.51 L202.14,277.94 L202.54,277.37 L202.94,276.81 L203.34,276.24 L203.74,275.68 L204.15,275.11 L204.56,274.55 L204.97,274.00 L205.39,273.44 L205.80,272.88 L206.22,272.33 L206.64,271.77 L207.07,271.22 L207.49,270.67 L207.92,270.12 L208.35,269.57 L208.79,269.03 L209.22,268.48 L209.66,267.93 L210.10,267.39 L210.54,266.84 L210.99,266.30 L211.44,265.76 L211.89,265.21 L212.34,264.67 L212.80,264.13 L213.26,263.59 L213.72,263.05 L214.18,262.51 L214.64,261.96 L215.11,261.42 L215.58,260.88 L216.06,260.34 L216.53,259.80 L217.01,259.27 L217.49,258.73 L217.97,258.20 L218.46,257.67 L218.95,257.14 L219.45,256.61 L219.94,256.09 L220.44,255.57 L220.94,255.05 L221.45,254.54 L221.96,254.03 L222.48,253.52 L222.99,253.02 L223.51,252.53 L224.04,252.04 L224.57,251.56 L225.10,251.08 L225.64,250.61 L226.18,250.15 L226.73,249.69 L227.28,249.24 L227.83,248.80 L228.39,248.36 L228.95,247.94 L229.52,247.52 L230.10,247.11 L230.67,246.71 L231.26,246.32 L231.84,245.93 L232.44,245.56 L233.03,245.20 L233.64,244.85 L234.25,244.51 L234.86,244.18 L235.48,243.86 L236.10,243.56 L236.73,243.26 L237.37,242.98 L238.01,242.71 L238.66,242.45 L239.31,242.21 L239.97,241.97 L240.63,241.75 L241.29,241.54 L241.96,241.34 L242.63,241.16 L243.30,240.99 L243.98,240.83 L244.66,240.68 L245.34,240.55 L246.03,240.43 L246.72,240.32 L247.40,240.22 L248.09,240.13 L248.79,240.06 L249.48,240.00 L250.17,239.96 L250.86,239.92 L251.56,239.90 L252.25,239.89 L252.94,239.90 L253.64,239.91 L254.33,239.94 L255.02,239.99 L255.71,240.04 L256.40,240.11 L257.08,240.19 L257.77,240.29 L258.45,240.39 L259.13,240.51 L259.80,240.65 L260.47,240.79 L261.14,240.95 L261.81,241.13 L262.47,241.31 L263.13,241.51 L263.78,241.72 L264.43,241.95 L265.07,242.18 L265.71,242.43 L266.35,242.69 L266.98,242.96 L267.61,243.24 L268.24,243.54 L268.86,243.84 L269.48,244.15 L270.10,244.47 L270.71,244.80 L271.33,245.13 L271.93,245.47 L272.54,245.83 L273.15,246.18 L273.75,246.55 L274.35,246.92 L274.95,247.29 L275.55,247.67 L276.14,248.06 L276.74,248.44 L277.33,248.84 L277.92,249.23 L278.52,249.63 L279.11,250.03 L279.70,250.44 L280.29,250.84 L280.88,251.25 L281.47,251.65 L282.06,252.06 L282.65,252.47 L283.24,252.87 L283.83,253.28 L284.42,253.68 L285.01,254.09 L285.60,254.49 L286.20,254.88 L286.79,255.28 L287.39,255.67 L287.98,256.07 L288.58,256.46 L289.18,256.85 L289.78,257.23 L290.37,257.62 L290.97,258.00 L291.58,258.38 L292.18,258.76 L292.78,259.13 L293.38,259.51 L293.99,259.88 L294.59,260.25 L295.20,260.62 L295.81,260.98 L296.42,261.34 L297.02,261.70 L297.63,262.06 L298.24,262.42 L298.86,262.77 L299.47,263.12 L300.08,263.47 L300.70,263.82 L301.31,264.16 L301.93,264.50 L302.55,264.84 L303.16,265.18 L303.78,265.51 L304.40,265.84 L305.02,266.17 L305.65,266.50 L306.27,266.82 L306.89,267.14 L307.52,267.46 L308.14,267.78 L308.77,268.09 L309.40,268.40 L310.03,268.71 L310.66,269.02 L311.29,269.32 L311.92,269.62 L312.55,269.92 L313.19,270.21 L313.82,270.50 L314.46,270.79 L315.10,271.08 L315.74,271.36 L316.38,271.64 L317.02,271.92 L317.66,272.19 L318.30,272.46 L318.94,272.73 L319.59,273.00 L320.23,273.26 L320.88,273.52 L321.53,273.78 L322.18,274.03 L322.83,274.28 L323.48,274.53 L324.13,274.77 L324.79,275.01 L325.44,275.25 L326.10,275.48 L326.76,275.72 L327.41,275.94 L328.07,276.17 L328.73,276.39 L329.40,276.61 L330.06,276.82 L330.72,277.04 L331.39,277.24 L332.05,277.45 L332.72,277.65 L333.39,277.85 L334.06,278.04 L334.73,278.24 L335.41,278.43 L336.08,278.61 L336.75,278.79 L337.43,278.97 L338.11,279.15 L338.78,279.32 L339.46,279.49 L340.14,279.66 L340.82,279.82 L341.51,279.98 L342.19,280.14 L342.87,280.29 L343.56,280.44 L344.24,280.59 L344.93,280.74 L345.62,280.88 L346.30,281.02 L346.99,281.16 L347.68,281.29 L348.37,281.42 L349.07,281.55 L349.76,281.68 L350.45,281.80 L351.14,281.92 L351.84,282.04 L352.53,282.16 L353.23,282.27 L353.93,282.38 L354.62,282.49 L355.32,282.59 L356.02,282.70 L356.72,282.80 L357.42,282.89 L358.12,282.99 L358.82,283.08 L359.52,283.17 L360.22,283.26 L360.93,283.35 L361.63,283.43 L362.33,283.51 L363.04,283.59 L363.74,283.67 L364.44,283.75 L365.15,283.82 L365.85,283.89 L366.56,283.96 L367.27,284.03 L367.97,284.09 L368.68,284.16 L369.39,284.22 L370.09,284.28 L370.80,284.33 L371.51,284.39 L372.22,284.44 L372.92,284.49 L373.63,284.54 L374.34,284.59 L375.05,284.64 L375.76,284.68 L376.47,284.72 L377.18,284.76 L377.88,284.80 L378.59,284.84 L379.30,284.88 L380.01,284.91 L380.72,284.95 L381.43,284.98 L382.14,285.01 L382.85,285.04 L383.56,285.06 L384.27,285.09 L384.98,285.11 L385.68,285.14 L386.39,285.16 L387.10,285.18 L387.81,285.20 L388.52,285.21 L389.23,285.23 L389.93,285.25 L390.64,285.26 L391.35,285.27 L392.06,285.29 L392.76,285.30 L393.47,285.31 L394.18,285.32 L394.88,285.32 L395.59,285.33 L396.29,285.34 L397.00,285.34 L397.70,285.34 L398.40,285.35 L399.11,285.35 L399.81,285.35 L400.51,285.35 L401.22,285.35 L401.92,285.35 L402.62,285.35 L403.32,285.35 L404.02,285.34 L404.72,285.34 L405.42,285.33 L406.12,285.33 L406.81,285.32 L407.51,285.32 L408.21,285.31 L408.90,285.30 L409.60,285.30 L410.29,285.29 L410.98,285.28 L411.68,285.27 L412.37,285.26 L413.06,285.25 L413.75,285.24 L414.44,285.23 L415.13,285.22 L415.82,285.21 L416.50,285.20 L417.19,285.19 L417.88,285.18 L418.56,285.17 L419.24,285.16 L419.93,285.15 L747.00,285.20" fill="none" stroke="#6e5d3a" stroke-width="1.6" stroke-linejoin="round"/>
<path d="M193.70,291.66 L194.30,291.31 L194.91,290.97 L195.52,290.62 L196.13,290.28 L196.74,289.95 L197.36,289.61 L197.97,289.28 L198.59,288.95 L199.21,288.62 L199.83,288.30 L200.46,287.98 L201.08,287.66 L201.71,287.35 L202.34,287.04 L202.97,286.73 L203.60,286.43 L204.24,286.13 L204.87,285.83 L205.51,285.53 L206.15,285.24 L206.79,284.95 L207.43,284.67 L208.08,284.38 L208.72,284.10 L209.37,283.83 L210.02,283.56 L210.67,283.29 L211.32,283.02 L211.98,282.76 L212.63,282.50 L213.29,282.25 L213.95,282.00 L214.61,281.75 L215.27,281.51 L215.93,281.26 L216.59,281.03 L217.26,280.79 L217.93,280.57 L218.59,280.34 L219.26,280.12 L219.93,279.90 L220.60,279.69 L221.28,279.47 L221.95,279.27 L222.63,279.07 L223.30,278.87 L223.98,278.67 L224.66,278.48 L225.34,278.29 L226.02,278.11 L226.70,277.93 L227.38,277.76 L228.06,277.59 L228.75,277.42 L229.43,277.26 L230.12,277.10 L230.81,276.95 L231.49,276.80 L232.18,276.65 L232.87,276.51 L233.56,276.37 L234.26,276.24 L234.95,276.11 L235.64,275.99 L236.34,275.87 L237.03,275.75 L237.73,275.64 L238.42,275.54 L239.12,275.44 L239.82,275.34 L240.51,275.25 L241.21,275.16 L241.91,275.08 L242.61,275.00 L243.31,274.93 L244.01,274.86 L244.71,274.79 L245.41,274.74 L246.12,274.68 L246.82,274.63 L247.52,274.59 L248.22,274.55 L248.93,274.51 L249.63,274.48 L250.33,274.46 L251.04,274.44 L251.74,274.43 L252.44,274.42 L253.15,274.42 L253.85,274.42 L254.55,274.43 L255.25,274.44 L255.95,274.46 L256.66,274.49 L257.36,274.52 L258.06,274.55 L258.76,274.60 L259.46,274.64 L260.16,274.70 L260.85,274.76 L261.55,274.82 L262.25,274.90 L262.94,274.97 L263.64,275.06 L264.33,275.15 L265.03,275.24 L265.72,275.34 L266.41,275.45 L267.10,275.56 L267.79,275.67 L268.48,275.79 L269.17,275.92 L269.86,276.04 L270.55,276.17 L271.24,276.31 L271.93,276.44 L272.61,276.58 L273.30,276.72 L273.99,276.87 L274.67,277.01 L275.36,277.16 L276.05,277.31 L276.73,277.46 L277.42,277.61 L278.11,277.76 L278.79,277.91 L279.48,278.06 L280.16,278.21 L280.85,278.37 L281.54,278.52 L282.22,278.68 L282.91,278.83 L283.60,278.99 L284.28,279.14 L284.97,279.30 L285.65,279.45 L286.34,279.61 L287.03,279.77 L287.71,279.92 L288.40,280.08 L289.09,280.23 L289.77,280.39 L290.46,280.54 L291.15,280.70 L291.83,280.85 L292.52,281.01 L293.21,281.16 L293.89,281.31 L294.58,281.46 L295.27,281.61 L295.96,281.76 L296.64,281.91 L297.33,282.06 L298.02,282.21 L298.71,282.35 L299.40,282.50 L300.09,282.64 L300.78,282.78 L301.46,282.92 L302.15,283.06 L302.84,283.20 L303.53,283.34 L304.22,283.47 L304.91,283.60 L305.60,283.73 L306.29,283.86 L306.98,283.99 L307.68,284.11 L308.37,284.24 L309.06,284.36 L309.75,284.48 L310.44,284.59 L311.14,284.71 L311.83,284.82 L312.52,284.93 L313.22,285.04 L313.91,285.14 L314.60,285.24 L315.30,285.34 L315.99,285.44 L316.69,285.53 L317.38,285.63 L318.08,285.72 L318.78,285.80 L319.47,285.89 L320.17,285.97 L320.87,286.05 L321.56,286.13 L322.26,286.21 L322.96,286.28 L323.66,286.35 L324.35,286.42 L325.05,286.49 L325.75,286.56 L326.45,286.62 L327.15,286.68 L327.85,286.74 L328.55,286.80 L329.25,286.86 L329.95,286.91 L330.65,286.96 L331.35,287.01 L332.05,287.06 L332.75,287.11 L333.45,287.15 L334.15,287.20 L334.86,287.24 L335.56,287.28 L336.26,287.32 L336.96,287.35 L337.66,287.39 L338.37,287.42 L339.07,287.45 L339.77,287.48 L340.47,287.51 L341.18,287.54 L341.88,287.57 L342.58,287.59 L343.29,287.61 L343.99,287.64 L344.70,287.66 L345.40,287.67 L346.10,287.69 L346.81,287.71 L347.51,287.72 L348.22,287.74 L348.92,287.75 L349.63,287.76 L350.33,287.77 L351.04,287.78 L351.74,287.79 L352.45,287.80 L353.15,287.80 L353.86,287.81 L354.56,287.81 L355.27,287.81 L355.97,287.82 L356.68,287.82 L357.39,287.82 L358.09,287.82 L358.80,287.81 L359.50,287.81 L360.21,287.81 L360.92,287.80 L361.62,287.80 L362.33,287.79 L363.03,287.79 L363.74,287.78 L364.45,287.77 L365.15,287.77 L365.86,287.76 L366.57,287.75 L367.27,287.74 L367.98,287.73 L368.68,287.72 L369.39,287.71 L370.10,287.69 L370.80,287.68 L371.51,287.67 L372.22,287.66 L372.92,287.64 L373.63,287.63 L374.34,287.62 L375.04,287.60 L375.75,287.59 L376.45,287.57 L377.16,287.56 L377.87,287.54 L378.57,287.53 L379.28,287.51 L379.98,287.50 L380.69,287.48 L381.39,287.47 L382.10,287.45 L382.81,287.44 L383.51,287.42 L384.22,287.41 L384.92,287.39 L385.63,287.38 L386.33,287.36 L387.04,287.35 L387.74,287.34 L388.45,287.32 L389.15,287.31 L389.86,287.29 L390.56,287.28 L391.27,287.27 L391.97,287.26 L392.67,287.24 L393.38,287.23 L394.08,287.22 L394.78,287.21 L395.49,287.20 L396.19,287.19 L396.89,287.18 L397.60,287.17 L398.30,287.16 L399.00,287.16 L399.71,287.15 L400.41,287.14 L401.11,287.14 L401.81,287.13 L402.51,287.13 L403.22,287.13 L403.92,287.12 L404.62,287.12 L405.32,287.12 L406.02,287.12 L406.72,287.12 L407.42,287.12 L408.12,287.13 L408.82,287.13 L409.52,287.13 L410.22,287.14 L410.92,287.15 L411.62,287.16 L412.32,287.16 L413.02,287.17 L413.71,287.19 L414.41,287.20 L415.11,287.21 L415.81,287.23 L416.50,287.24 L417.20,287.26 L417.90,287.28 L418.59,287.30 L419.29,287.32 L419.99,287.34 L747.00,286.90" fill="none" stroke="#58585a" stroke-width="2" stroke-linejoin="round"/>
</svg>
<div class="xl" style="left:151.65px">0</div><div class="xl" style="left:199.15px">2</div><div class="xl" style="left:253.75px">4</div><div class="xl" style="left:309.05px">6</div><div class="xl" style="left:363.85px">8</div><div class="xl" style="left:421.50px">10</div><div class="xl" style="left:478.05px">12</div><div class="xl" style="left:529.80px">14</div><div class="xl" style="left:583.00px">16</div><div class="xl" style="left:642.00px">18</div><div class="xl" style="left:696.25px">20</div>
<div class="yl" style="top:29.80px">0.025</div><div class="yl" style="top:81.20px">0.020</div><div class="yl" style="top:132.00px">0.015</div><div class="yl" style="top:183.60px">0.010</div><div class="yl" style="top:234.40px">0.005</div>
<div class="yl" style="left:61.5px;top:285.4px;width:85.5px;">0.0025</div>
<div class="yt" style="transform:translate(32.2px,289.7px) rotate(-90deg);">Probability of Transmission per<br>Unprotected Coital Act</div>
<div class="xt">Weeks after HIV Infection</div>
<div class="leg">
<div class="sw" style="top:11px;background:#5898ce;border-color:#1a4a85"></div>
<div class="lt" style="top:11.3px">75<sup>th</sup> percentile semen HIV-1 RNA load</div>
<div class="sw" style="top:40px;background:#c8b18d;border-color:#8a7650"></div>
<div class="lt" style="top:40.9px">50<sup>th</sup> percentile semen HIV-1 RNA load</div>
<div class="sw" style="top:68.5px;background:#d9cd1f;border-color:#857a30"></div>
<div class="lt" style="top:69.2px">25<sup>th</sup> percentile semen HIV-1 RNA load</div>
</div>
</body></html>
